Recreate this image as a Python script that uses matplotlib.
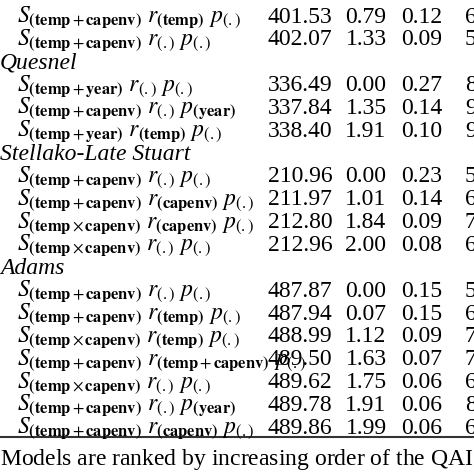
import matplotlib
matplotlib.use("Agg")
import matplotlib.pyplot as plt

plt.rcParams['mathtext.fontset'] = 'stix'
plt.rcParams['font.family'] = ['DejaVu Serif']
plt.rcParams['font.serif'] = ['Liberation Serif']

groups = ["(top)", "Quesnel", "Stellako-Late Stuart", "Adams"]
models = {
    "(top)": [("temp + capenv", "temp", "."), ("temp + capenv", ".", ".")],
    "Quesnel": [("temp + year", ".", "."), ("temp + capenv", ".", "year"), ("temp + year", "temp", ".")],
    "Stellako-Late Stuart": [("temp + capenv", ".", "."), ("temp + capenv", "capenv", "."),
                             ("temp x capenv", "capenv", "."), ("temp x capenv", ".", ".")],
    "Adams": [("temp + capenv", ".", "."), ("temp + capenv", "temp", "."), ("temp x capenv", "temp", "."),
              ("temp + capenv", "temp + capenv", "."), ("temp x capenv", ".", "."),
              ("temp + capenv", ".", "year"), ("temp + capenv", "capenv", ".")],
}
qaic = {"(top)": [401.53, 402.07], "Quesnel": [336.49, 337.84, 338.40],
        "Stellako-Late Stuart": [210.96, 211.97, 212.80, 212.96],
        "Adams": [487.87, 487.94, 488.99, 489.50, 489.62, 489.78, 489.86]}
dqaic = {"(top)": [0.79, 1.33], "Quesnel": [0.00, 1.35, 1.91],
         "Stellako-Late Stuart": [0.00, 1.01, 1.84, 2.00],
         "Adams": [0.00, 0.07, 1.12, 1.63, 1.75, 1.91, 1.99]}
weight = {"(top)": [0.12, 0.09], "Quesnel": [0.27, 0.14, 0.10],
          "Stellako-Late Stuart": [0.23, 0.14, 0.09, 0.08],
          "Adams": [0.15, 0.15, 0.09, 0.07, 0.06, 0.06, 0.06]}
npar = {"(top)": [6, 5], "Quesnel": [8, 9, 9], "Stellako-Late Stuart": [5, 6, 7, 6],
        "Adams": [5, 6, 7, 7, 6, 8, 6]}
caption = "Models are ranked by increasing order of the QAIC$_c$ value and"

W = H = 474
fig = plt.figure(figsize=(4.74, 4.74), dpi=100)
fig.patch.set_facecolor('white')
ax = fig.add_axes([0, 0, 1, 1])
ax.set_xlim(0, W); ax.set_ylim(H, 0); ax.axis('off')

def sub(s):
    if s == ".":
        return "(.)"
    parts = s.split(" ")
    out = []
    for t in parts:
        if t == "+":
            out.append("\\,{+}\\,")
        elif t == "x":
            out.append("\\,{\\times}\\,")
        else:
            out.append("\\mathbf{" + t + "}")
    return "\\mathbf{(}" + "".join(out) + "\\mathbf{)}"

fs = 17
y = 17
pitch = 22.85
for g in groups:
    if g != "(top)":
        ax.text(0, y, g, fontsize=fs, style='italic', va='center', ha='left', family='serif')
        y += pitch
    for i, (s, r, p) in enumerate(models[g]):
        lab = "$S_{%s}\\ r_{%s}\\ p_{%s}$" % (sub(s), sub(r), sub(p))
        ax.text(17, y, lab, fontsize=fs, va='center', ha='left')
        ax.text(300, y, f"{qaic[g][i]:.2f}", fontsize=fs, va='center', ha='center', family='serif')
        ax.text(366, y, f"{dqaic[g][i]:.2f}", fontsize=fs, va='center', ha='center', family='serif')
        ax.text(422, y, f"{weight[g][i]:.2f}", fontsize=fs, va='center', ha='center', family='serif')
        ax.text(465, y, f"{npar[g][i]}", fontsize=fs, va='center', ha='left', family='serif')
        y += pitch

ax.plot([0, W], [437, 437], color='#333333', lw=1.5)
ax.text(0, 460, caption, fontsize=fs, va='center', ha='left', family='serif')
fig.savefig("out.png", dpi=100)
